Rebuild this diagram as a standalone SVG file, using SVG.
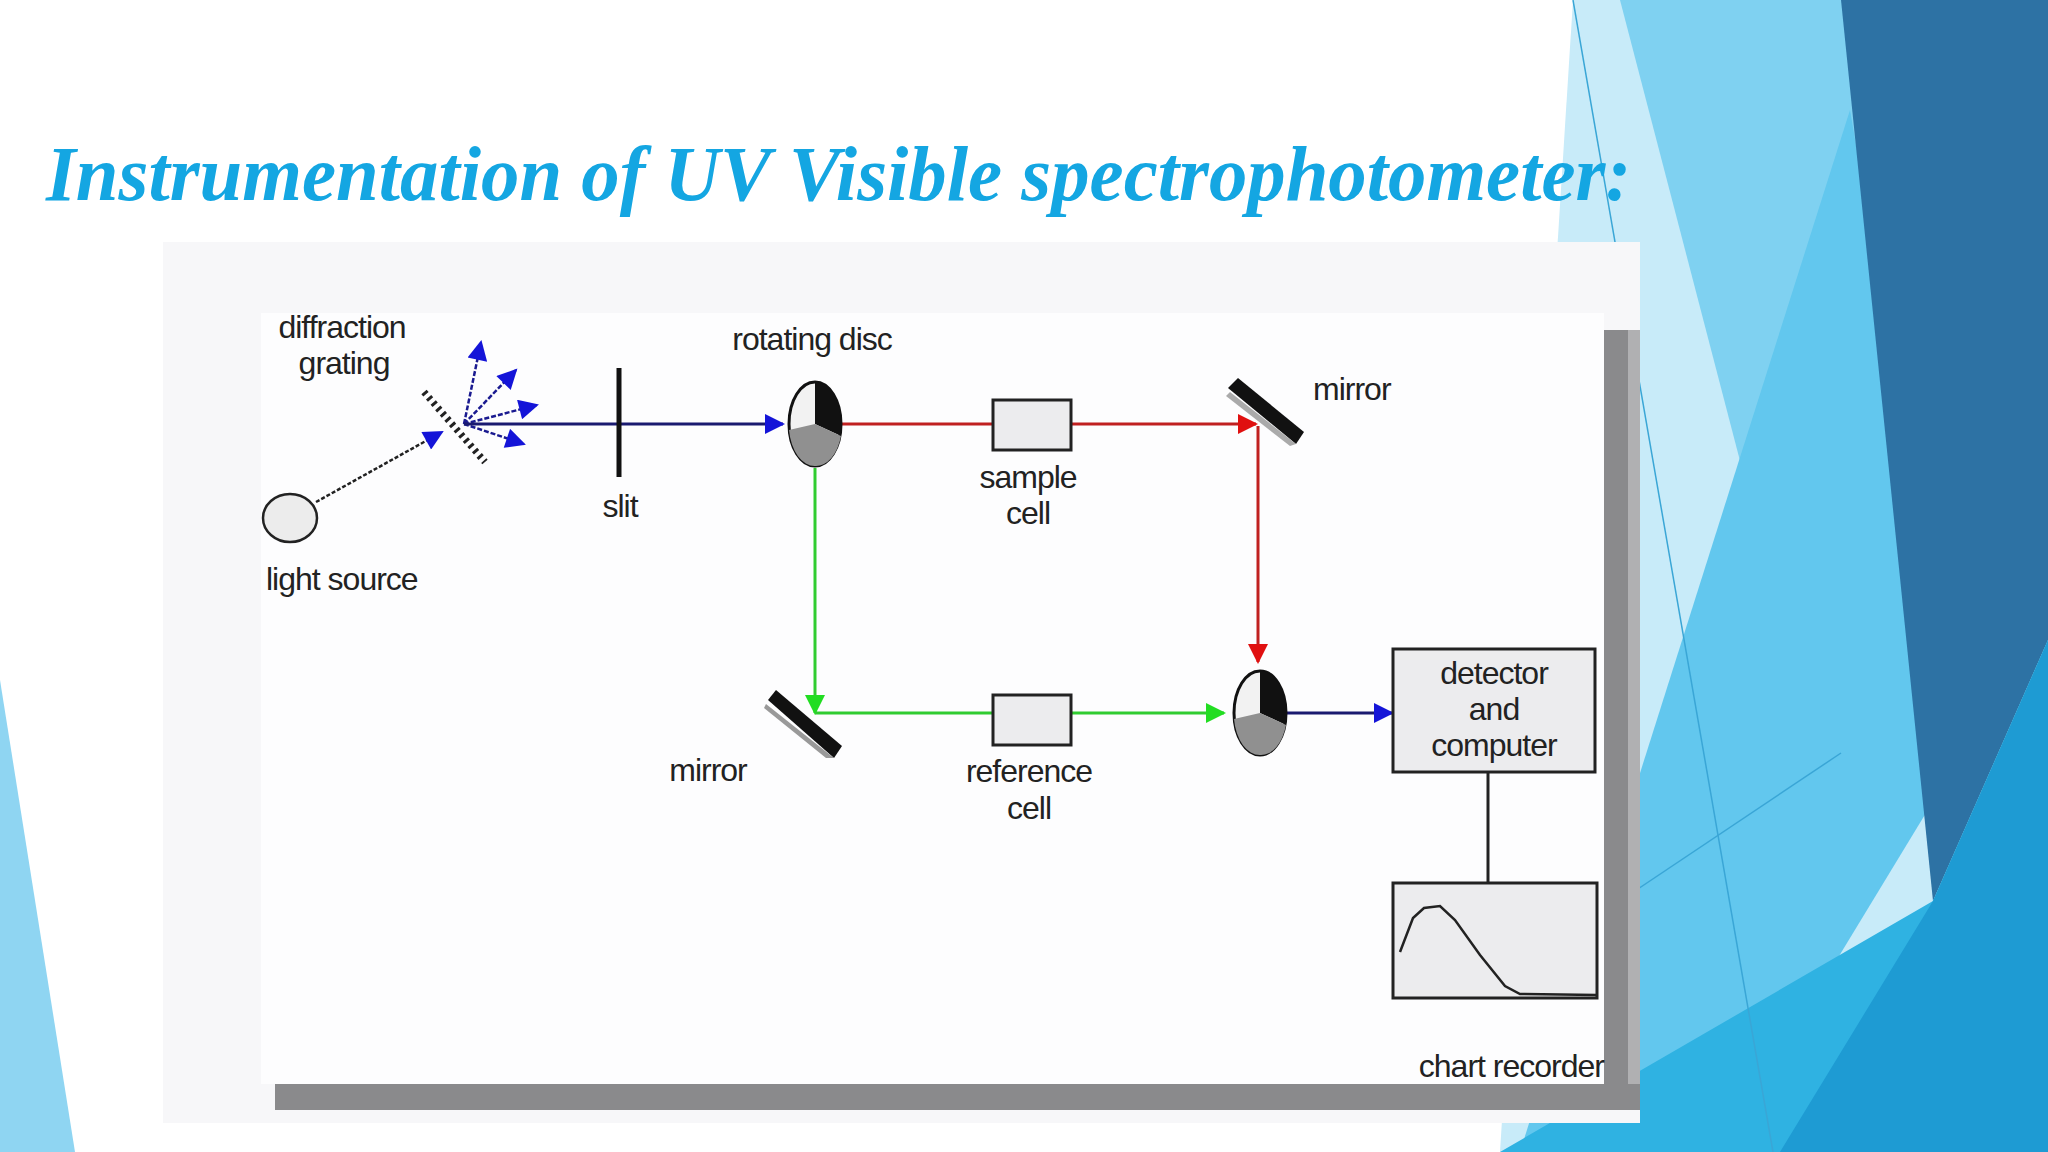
<svg xmlns="http://www.w3.org/2000/svg" width="2048" height="1152" viewBox="0 0 2048 1152">
<defs>
<style>
.lbl{font-family:"Liberation Sans",Arial,sans-serif;font-size:32px;fill:#222;letter-spacing:-1px}
.c{text-anchor:middle}
.box{fill:#ececee;stroke:#222;stroke-width:3}
</style>
<marker id="bl" viewBox="0 0 10 10" refX="9" refY="5" markerWidth="22" markerHeight="20" orient="auto" markerUnits="userSpaceOnUse"><path d="M0,0L10,5L0,10z" fill="#1414d8"/></marker>
<marker id="rd" viewBox="0 0 10 10" refX="9" refY="5" markerWidth="22" markerHeight="20" orient="auto" markerUnits="userSpaceOnUse"><path d="M0,0L10,5L0,10z" fill="#e01010"/></marker>
<marker id="gr" viewBox="0 0 10 10" refX="9" refY="5" markerWidth="22" markerHeight="20" orient="auto" markerUnits="userSpaceOnUse"><path d="M0,0L10,5L0,10z" fill="#22dd22"/></marker>
</defs>
<rect width="2048" height="1152" fill="#fff"/>
<g id="background">
<polygon points="1573,0 2048,0 2048,1152 1500,1152" fill="#c8ebf9"/>
<polygon points="1620,0 1845,0 1960,757 1840,820 1745,480" fill="#7fd1f1"/>
<polygon points="1520,1152 1850,110 1960,757 1720,1152" fill="#62c7ee"/>
<polygon points="1841,0 2048,0 2048,640 1933,901" fill="#2d72a4"/>
<polygon points="1500,1152 1933,901 2048,640 2048,1152" fill="#2fb2e2"/>
<polygon points="1780,1152 1933,901 2048,640 2048,1152" fill="#1e9bd3"/>
<polygon points="0,680 75,1152 0,1152" fill="#8fd5f2"/>
<line x1="1573" y1="0" x2="1773" y2="1152" stroke="#3aa6d6" stroke-width="1.5"/>
<line x1="1605" y1="911" x2="1841" y2="753" stroke="#3aa6d6" stroke-width="1.5"/>
</g>
<text x="46" y="200" font-family="Liberation Serif,'Times New Roman',serif" font-size="78" font-weight="bold" font-style="italic" fill="#14a6e2" textLength="1585" lengthAdjust="spacingAndGlyphs">Instrumentation of UV Visible spectrophotometer:</text>
<g id="panel">
<rect x="163" y="242" width="1477" height="881" fill="#f7f7f9"/>
<rect x="1604" y="330" width="36" height="780" fill="#8a8a8c"/>
<rect x="1628" y="330" width="12" height="780" fill="#b0b0b2"/>
<rect x="275" y="1084" width="1365" height="26" fill="#8a8a8c"/>
<rect x="261" y="313" width="1343" height="771" fill="#fdfdfe"/>
</g>
<g id="connectors" fill="none">
<line x1="316" y1="502" x2="442" y2="432" stroke="#222" stroke-width="2.5" stroke-dasharray="4,2" marker-end="url(#bl)"/>
<g stroke="#1a1a90" stroke-width="2.5" stroke-dasharray="5,2">
<line x1="464" y1="424" x2="481" y2="342" marker-end="url(#bl)"/>
<line x1="464" y1="424" x2="516" y2="370" marker-end="url(#bl)"/>
<line x1="464" y1="424" x2="537" y2="405" marker-end="url(#bl)"/>
<line x1="464" y1="424" x2="524" y2="444" marker-end="url(#bl)"/>
</g>
<line x1="464" y1="424" x2="783" y2="424" stroke="#1a1a70" stroke-width="3" marker-end="url(#bl)"/>
<line x1="842" y1="424" x2="1256" y2="424" stroke="#c02020" stroke-width="3" marker-end="url(#rd)"/>
<line x1="1258" y1="426" x2="1258" y2="662" stroke="#c02020" stroke-width="3" marker-end="url(#rd)"/>
<line x1="815" y1="468" x2="815" y2="713" stroke="#30cc30" stroke-width="3" marker-end="url(#gr)"/>
<line x1="815" y1="713" x2="1224" y2="713" stroke="#30cc30" stroke-width="3" marker-end="url(#gr)"/>
<line x1="1286" y1="713" x2="1392" y2="713" stroke="#1a1a70" stroke-width="3" marker-end="url(#bl)"/>
<line x1="1488" y1="772" x2="1488" y2="883" stroke="#222" stroke-width="3"/>
</g>
<g id="light-source"><ellipse cx="290" cy="518" rx="27" ry="24" fill="#ececec" stroke="#222" stroke-width="2.5"/>
<text class="lbl" x="266" y="590">light source</text></g>
<g id="grating"><line x1="424" y1="392" x2="485" y2="462" stroke="#222" stroke-width="7" stroke-dasharray="3,4"/>
<text class="lbl c" x="342" y="338">diffraction</text><text class="lbl c" x="344" y="374">grating</text></g>
<g id="slit"><line x1="619" y1="368" x2="619" y2="477" stroke="#111" stroke-width="5"/>
<text class="lbl c" x="620" y="517">slit</text></g>
<g id="disc1">
<ellipse cx="815" cy="424" rx="26" ry="42" fill="#f2f2f2" stroke="#111" stroke-width="3"/>
<path d="M815,382 A26,42 0 0 1 841,424 L841,436 L815,424Z" fill="#111"/>
<path d="M815,424 L841,436 A26,42 0 0 1 815,466 A26,42 0 0 1 789,430Z" fill="#909090"/>
<text class="lbl c" x="812" y="350">rotating disc</text></g>
<g id="sample-cell"><rect class="box" x="993" y="400" width="78" height="50"/>
<text class="lbl c" x="1028" y="488">sample</text><text class="lbl c" x="1028" y="524">cell</text></g>
<g id="mirror-top"><polygon points="1228,388 1238,378 1304,432 1296,444" fill="#111"/><polygon points="1230,392 1296,444 1290,446 1226,396" fill="#aaa"/>
<text class="lbl" x="1313" y="400">mirror</text></g>
<g id="mirror-bottom"><polygon points="768,700 776,690 842,746 834,758" fill="#111"/><polygon points="766,704 834,758 826,758 764,708" fill="#999"/>
<text class="lbl c" x="708" y="781">mirror</text></g>
<g id="reference-cell"><rect class="box" x="993" y="695" width="78" height="50"/>
<text class="lbl c" x="1029" y="782">reference</text><text class="lbl c" x="1029" y="819">cell</text></g>
<g id="disc2">
<ellipse cx="1260" cy="713" rx="26" ry="42" fill="#f2f2f2" stroke="#111" stroke-width="3"/>
<path d="M1260,671 A26,42 0 0 1 1286,713 L1286,725 L1260,713Z" fill="#111"/>
<path d="M1260,713 L1286,725 A26,42 0 0 1 1260,755 A26,42 0 0 1 1234,719Z" fill="#909090"/></g>
<g id="detector"><rect class="box" x="1393" y="649" width="202" height="123"/>
<text class="lbl c" x="1494" y="684">detector</text><text class="lbl c" x="1494" y="720">and</text><text class="lbl c" x="1494" y="756">computer</text></g>
<g id="chart-recorder"><rect class="box" x="1393" y="883" width="204" height="115"/>
<path d="M1400,952 L1413,918 L1424,908 L1440,906 L1455,920 L1480,955 L1505,986 L1520,994 L1597,995" fill="none" stroke="#222" stroke-width="2.5"/>
<text class="lbl" x="1604" y="1077" text-anchor="end">chart recorder</text></g>
</svg>
